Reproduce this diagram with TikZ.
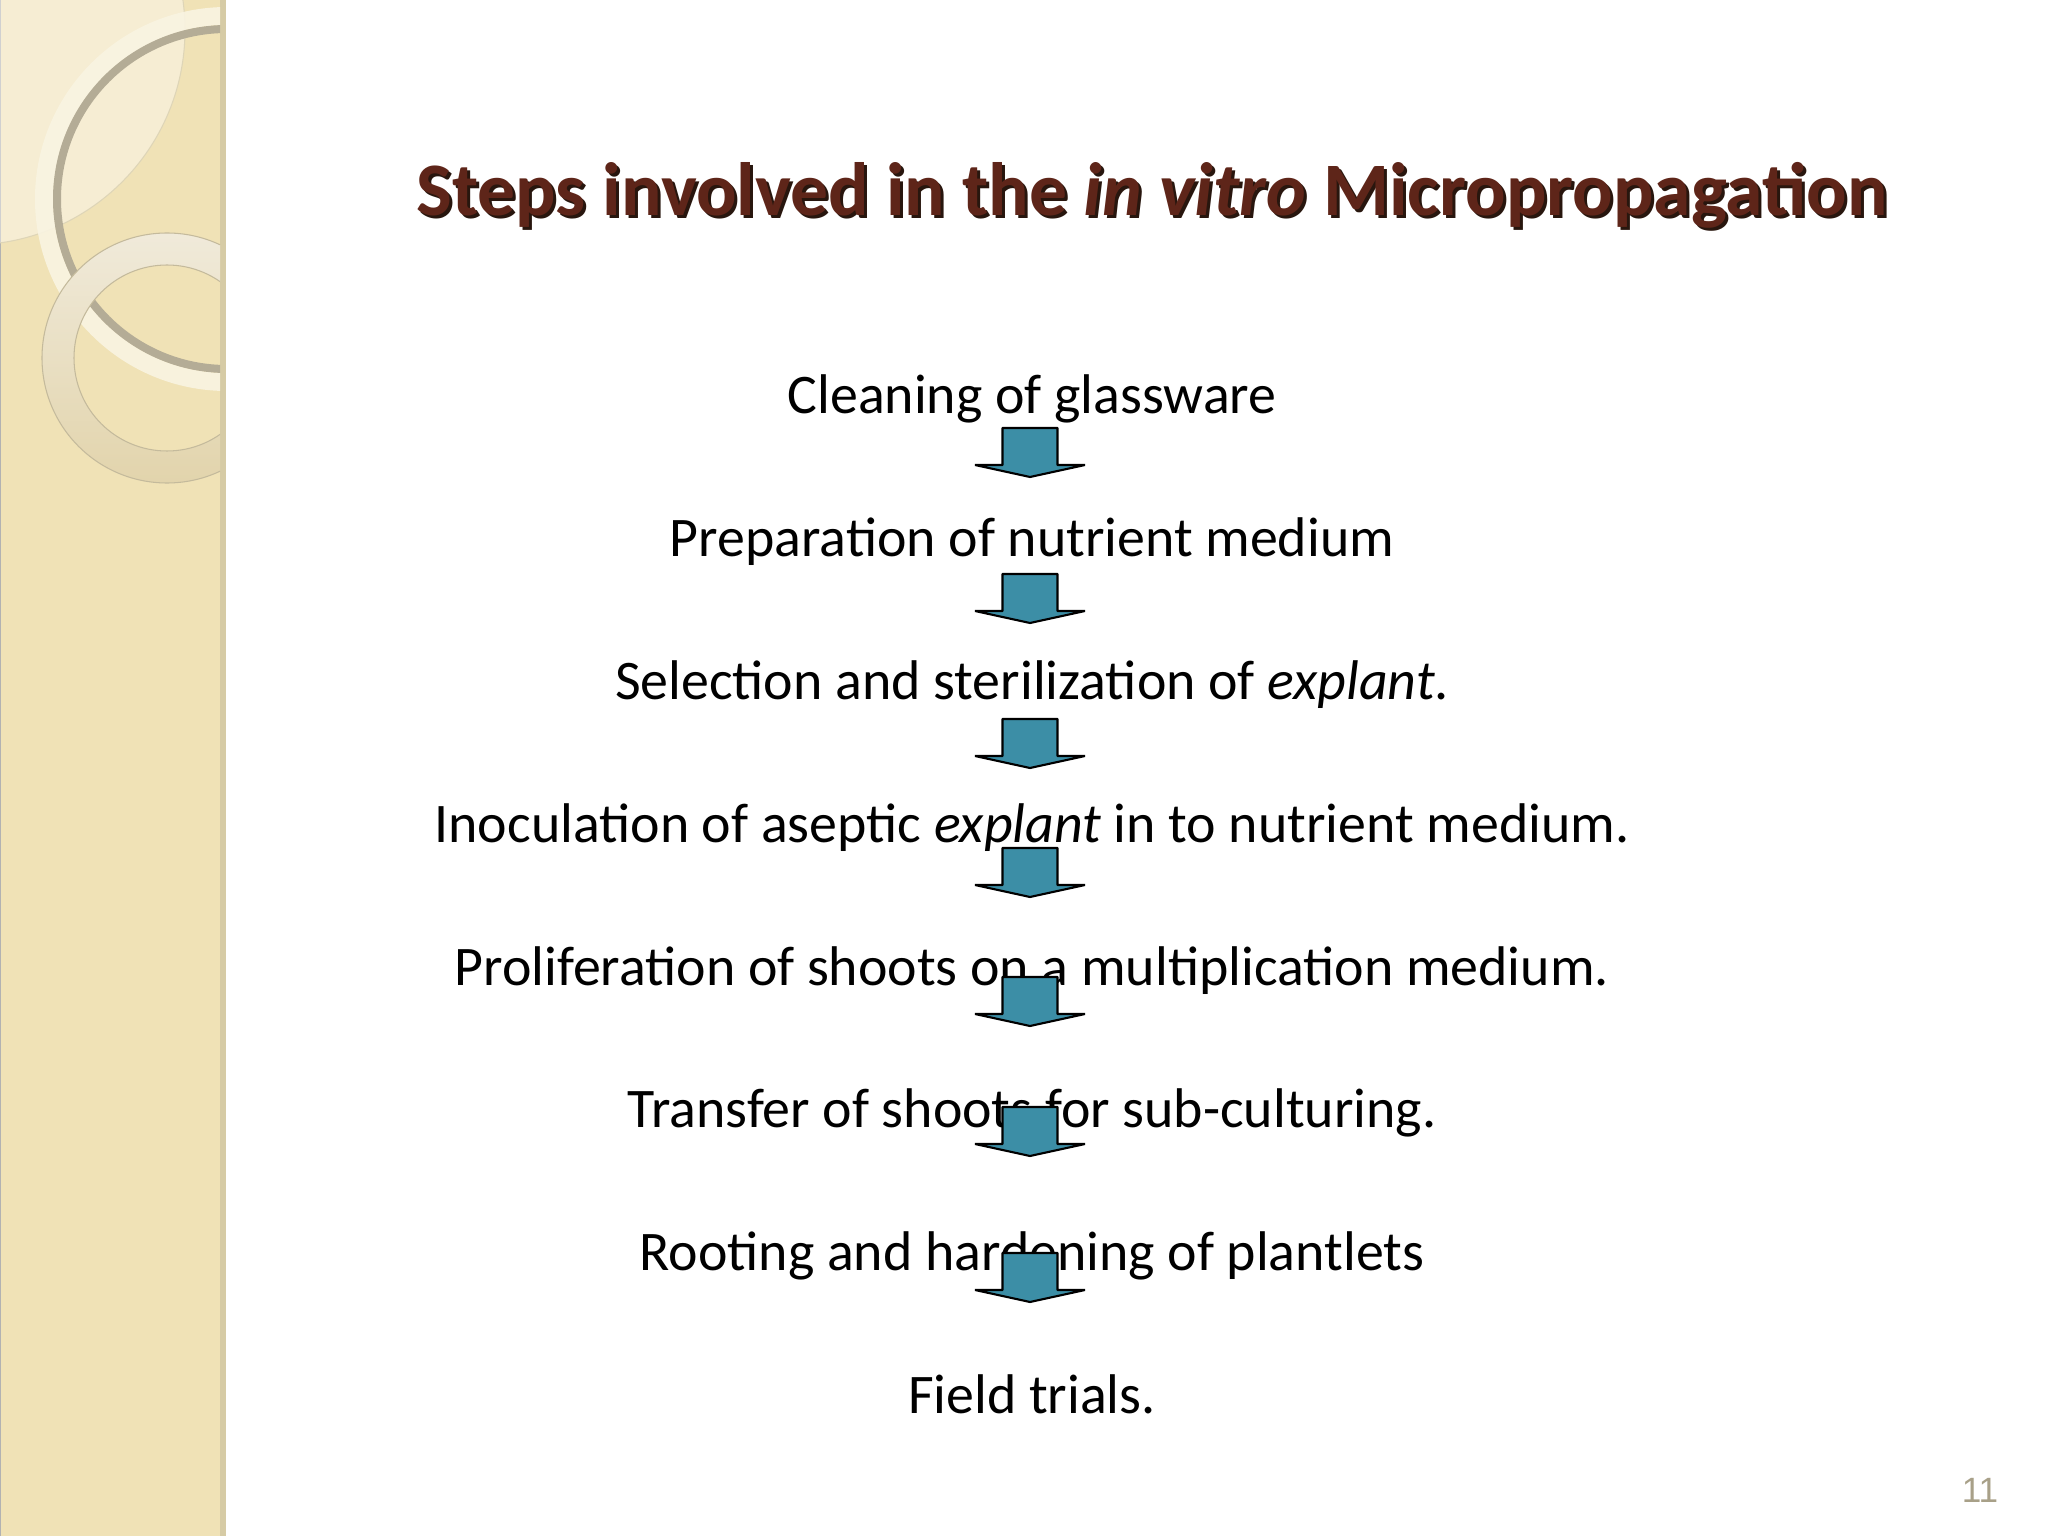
\documentclass[tikz,border=0pt]{standalone}
\usepackage{fontspec}
\setmainfont{Carlito}
\newfontfamily\numfont{Liberation Sans}
\usetikzlibrary{positioning}

\definecolor{panelbeige}{RGB}{240,226,182}
\definecolor{paneledge}{RGB}{214,203,165}
\definecolor{ringgrey}{RGB}{180,172,150}
\definecolor{ringline}{RGB}{196,186,156}
\definecolor{ringtop}{RGB}{240,234,218}
\definecolor{ringbottom}{RGB}{226,212,172}
\definecolor{titlebrown}{RGB}{94,37,25}
\definecolor{titleshade}{RGB}{40,22,14}
\definecolor{arrowteal}{RGB}{60,142,166}
\definecolor{pagegrey}{RGB}{168,160,136}

\tikzset{
  stepline/.style={anchor=base, inner sep=0pt, font=\fontsize{15.9}{19}\selectfont},
  blockarrow/.style={fill=arrowteal, draw=black, line width=0.6pt, line join=bevel},
}

% block arrow, top of shaft centred at x=10.30
\newcommand{\blockdown}[1]{%
  \draw[blockarrow] (10.025, -#1) -- ++(0.55, 0) -- ++(0, -0.37) -- ++(0.275, 0)
    -- ++(-0.55, -0.12) -- ++(-0.55, 0.12) -- ++(0.275, 0) -- cycle;}

\begin{document}
\begin{tikzpicture}
    \useasboundingbox (0, 0) rectangle (20.48, -15.36);
    \fill[white] (0, 0) rectangle (20.48, -15.36);

    % side panel
    \fill[panelbeige] (0, 0) rectangle (2.20, -15.36);
    \fill[paneledge] (2.20, 0) rectangle (2.26, -15.36);
    \draw[gray!60, line width=0.5pt] (0, 0) -- (0, -15.36);
    \begin{scope}
        \clip (0, 0) rectangle (2.20, -15.36);
        \fill[white, opacity=0.4] (-0.30, -0.30) circle (2.15);
        \draw[paneledge!80, line width=0.3pt] (-0.30, -0.30) circle (2.15);
        \fill[even odd rule, white!60!panelbeige, opacity=0.9] (2.27, -1.99) circle (1.92) circle (1.74);
        \fill[even odd rule, ringgrey] (2.27, -1.99) circle (1.74) circle (1.66);
        \shade[even odd rule, top color=ringtop, bottom color=ringbottom]
            (1.67, -3.58) circle (1.25) circle (0.93);
        \draw[ringline, line width=0.3pt] (1.67, -3.58) circle (1.25);
        \draw[ringline, line width=0.3pt] (1.67, -3.58) circle (0.93);
    \end{scope}

    % title with shadow
    \node[anchor=base, inner sep=0pt, font=\fontsize{21.5}{26}\selectfont\bfseries, text=titleshade]
        at (11.55, -2.19) (titleshadow) {Steps involved in the \textit{in vitro} Micropropagation};
    \node[anchor=base, inner sep=0pt, font=\fontsize{21.5}{26}\selectfont\bfseries, text=titlebrown]
        at (11.52, -2.16) (title) {Steps involved in the \textit{in vitro} Micropropagation};

    \node[stepline] at (10.32, -4.14 - 0 * 1.4275) (s1) {Cleaning of glassware};
    \node[stepline] at (10.32, -4.14 - 1 * 1.4275) (s2) {Preparation of nutrient medium};
    \node[stepline] at (10.32, -4.14 - 2 * 1.4275) (s3) {Selection and sterilization of \textit{explant}.};
    \node[stepline] at (10.32, -4.14 - 3 * 1.4275) (s4) {Inoculation of aseptic \textit{explant} in to nutrient medium.};
    \node[stepline] at (10.32, -4.14 - 4 * 1.4275) (s5) {Proliferation of shoots on a multiplication medium.};
    \node[stepline] at (10.32, -4.14 - 5 * 1.4275) (s6) {Transfer of shoots for sub-culturing.};
    \node[stepline] at (10.32, -4.14 - 6 * 1.4275) (s7) {Rooting and hardening of plantlets};
    \node[stepline] at (10.32, -4.14 - 7 * 1.4275) (s8) {Field trials.};

    % arrows between steps
    \blockdown{4.28}
    \blockdown{5.74}
    \blockdown{7.19}
    \blockdown{8.48}
    \blockdown{9.77}
    \blockdown{11.07}
    \blockdown{12.53}

    \node[anchor=base, inner sep=0pt, font=\numfont\fontsize{10}{12}\selectfont, text=pagegrey]
        at (19.80, -15.02) (pagenum) {11};
\end{tikzpicture}
\end{document}
